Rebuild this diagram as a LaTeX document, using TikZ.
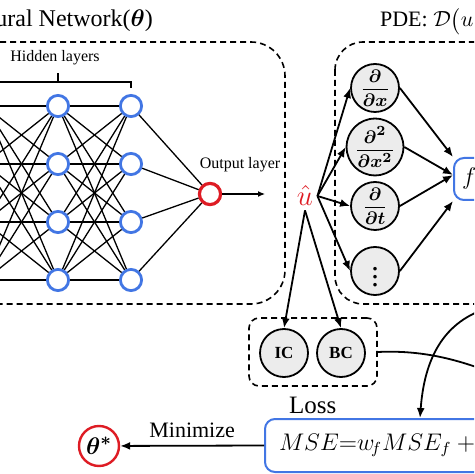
\documentclass[tikz,border=0pt]{standalone}
\usepackage{fontspec}
\setmainfont{Liberation Serif}
\usepackage{amsmath}
\usepackage{bm}
\usetikzlibrary{arrows.meta}
\definecolor{nnblue}{RGB}{66,118,228}
\definecolor{nnred}{RGB}{222,28,36}
\definecolor{opgray}{RGB}{236,236,236}
\begin{document}
\begin{tikzpicture}[x=0.5pt,y=-0.5pt,
  neuron/.style={circle, draw=nnblue, line width=1.4pt, minimum size=10.6pt, inner sep=0pt},
  outneuron/.style={circle, draw=nnred, line width=1.6pt, minimum size=10.6pt, inner sep=0pt},
  op/.style={circle, draw, fill=opgray, line width=0.9pt, minimum size=24pt, inner sep=0pt, font=\fontsize{9.5}{10}\selectfont\boldmath},
  cond/.style={op, font=\fontsize{8.5}{10}\selectfont\bfseries},
  bluebox/.style={draw=nnblue, line width=1pt, rounded corners=5pt, fill=white},
  groupbox/.style={draw, line width=0.8pt, dash pattern=on 3pt off 2pt},
  wire/.style={line width=0.65pt},
  arr/.style={-{Latex[length=5pt,width=4pt]}, line width=0.9pt},
  thinarr/.style={-{Latex[length=3.5pt,width=3pt]}, line width=0.6pt},
  small/.style={font=\fontsize{8}{9}\selectfont},
]
\useasboundingbox (0,0) rectangle (474,474);
\clip (0,0) rectangle (474,474);

\draw[groupbox, rounded corners=17pt] (-200,42) rectangle (285,304);
\draw[groupbox, rounded corners=14pt] (335,42) rectangle (700,304);

\node[anchor=base east, font=\fontsize{12}{14}\selectfont] (nntitle) at (160,27) {Neural Network($\bm{\theta}$)};
\node[anchor=base west, font=\fontsize{11}{13}\selectfont] (pdetitle) at (373,27) {PDE: $\mathcal{D}\big(u(x,t)\big)=0$};

\node[small] (hiddenlabel) at (55,58) {Hidden layers};
\draw[wire] (-14,88) -- (-14,82) -- (131,82) -- (131,88) (58,82) -- (58,73);

\foreach \l/\x in {1/-15,2/58,3/131}
  \foreach \r/\y in {1/106,2/164,3/222,4/280}
    \node[neuron] (h\l-\r) at (\x,\y) {};
\node[outneuron] (out) at (210,194) {};
\foreach \i in {1,...,4} {
  \foreach \j in {1,...,4} {
    \draw[wire] (h1-\i) -- (h2-\j);
    \draw[wire] (h2-\i) -- (h3-\j);
  }
  \draw[wire] (h3-\i) -- (out);
}
\node[small] (outlabel) at (240,165) {Output layer};
\coordinate (outend) at (265,194);
\draw[thinarr] (out) -- (outend);

\node[text=nnred, font=\fontsize{15}{17}\selectfont, inner sep=2pt] (uhat) at (305,196) {$\hat{u}$};

\node[op] (d1) at (375,88) {$\dfrac{\partial}{\partial x}$};
\node[op] (d2) at (375,147) {$\dfrac{\partial^2}{\partial x^2}$};
\node[op] (d3) at (375,206) {$\dfrac{\partial}{\partial t}$};
\node[op, font=\fontsize{15}{16}\selectfont\boldmath] (d4) at (375,271) {$\vdots$};
\node[bluebox, anchor=west, minimum height=21pt, text width=40pt, align=left, inner sep=4pt, font=\fontsize{12}{14}\selectfont] (fbox) at (453,179) {$f$};

\foreach \k in {1,...,4}
  \draw[arr] (uhat.east) -- (d\k.west);
\draw[arr] (d1.east) -- (fbox.north west);
\draw[arr] (d2.east) -- ([yshift=2pt]fbox.west);
\draw[arr] (d3.east) -- ([yshift=2pt]fbox.west);
\draw[arr] (d4.east) -- (fbox.south west);

\node[groupbox, rounded corners=5pt, minimum width=64pt, minimum height=34pt] (bcbox) at (313,352) {};
\node[cond] (ic) at (284,353) {IC};
\node[cond] (bc) at (341,353) {BC};
\draw[arr] (uhat.south) -- (ic.north);
\draw[arr] (uhat.south) -- (bc.north);

\node[bluebox, anchor=north west, minimum height=26.5pt, inner xsep=7pt, font=\fontsize{11.5}{13}\selectfont] (loss) at (264,418) {$MSE{=}w_{\!f}MSE_f+w_uMSE_u$};
\node[anchor=base west, font=\fontsize{12.5}{14}\selectfont] (losslabel) at (282,413) {Loss};

\coordinate (fdown) at (500,305);
\coordinate (bcout) at (520,385);
\draw[arr] (fdown) .. controls (450,315) and (425,350) .. ([xshift=78pt]loss.north west);
\draw[arr] (bcbox.east) .. controls (420,350) and (460,358) .. (bcout);

\node[circle, draw=nnred, line width=1.2pt, minimum size=20pt, inner sep=0pt, font=\fontsize{13}{14}\selectfont] (theta) at (99,446) {$\bm{\theta^*}$};
\draw[arr] (loss.west) -- node[above, font=\fontsize{11}{13}\selectfont] (minlabel) {Minimize} (theta);
\end{tikzpicture}
\end{document}
